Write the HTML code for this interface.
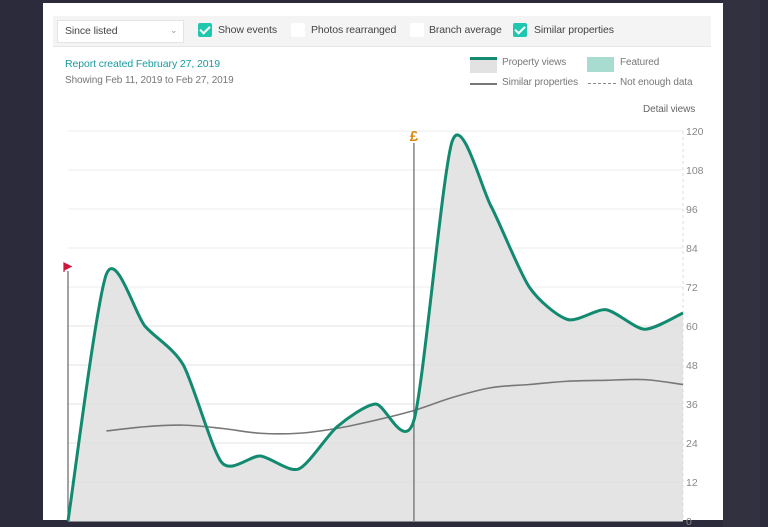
<!DOCTYPE html>
<html><head><meta charset="utf-8"><style>
body{margin:0;width:768px;height:527px;background:#2c2b3b;overflow:hidden;font-family:"Liberation Sans",sans-serif}
#panel{position:absolute;left:43px;top:3px;width:680px;height:517px;background:#fff}
#outer{position:absolute;left:723px;top:0;width:37px;height:527px;background:#32313f}
#bar{position:absolute;left:53px;top:16px;width:658px;height:30px;background:#f4f4f4;border-bottom:1px solid #e6e6e6}
.t{position:absolute;font-size:10.5px;color:#444;white-space:nowrap;letter-spacing:-0.1px}
.cb{position:absolute;width:14px;height:14px;border-radius:2px;background:#fff}
.cb.on{background:#1fc7ae}
.cb.on::after{content:"";position:absolute;left:4px;top:1px;width:4px;height:8px;border:solid #fff;border-width:0 2px 2px 0;transform:rotate(45deg)}
</style></head><body>
<div id="outer"></div>
<div id="panel"></div>
<div id="bar">
 <div style="position:absolute;left:4px;top:4px;width:125px;height:21px;background:#fff;border:1px solid #e4e4e4"><span class="t" style="left:7px;top:4px">Since listed</span><span class="t" style="left:112px;top:4px;color:#999;font-size:9px">⌄</span></div>
 <div class="cb on" style="left:145px;top:7px"></div><span class="t" style="left:165px;top:8px">Show events</span>
 <div class="cb" style="left:238px;top:7px"></div><span class="t" style="left:258px;top:8px">Photos rearranged</span>
 <div class="cb" style="left:357px;top:7px"></div><span class="t" style="left:376px;top:8px">Branch average</span>
 <div class="cb on" style="left:460px;top:7px"></div><span class="t" style="left:481px;top:8px">Similar properties</span>
</div>
<span class="t" style="left:65px;top:58px;color:#1a9aa0">Report created February 27, 2019</span>
<span class="t" style="left:65px;top:75px;color:#777;font-size:10px">Showing Feb 11, 2019 to Feb 27, 2019</span>
<div><div style="position:absolute;left:470px;top:57px;width:27px;height:13px;background:#e2e2e2;border-top:3px solid #158a6e"></div><span class="t" style="left:502px;top:57px;color:#777;font-size:10px">Property views</span></div>
<div><div style="position:absolute;left:587px;top:57px;width:27px;height:15px;background:#a8dcd0"></div><span class="t" style="left:620px;top:57px;color:#777;font-size:10px">Featured</span></div>
<div><div style="position:absolute;left:470px;top:83px;width:27px;height:2px;background:#777"></div><span class="t" style="left:502px;top:77px;color:#777;font-size:10px">Similar properties</span></div>
<div><div style="position:absolute;left:588px;top:83px;width:28px;border-top:1px dashed #888"></div><span class="t" style="left:620px;top:77px;color:#777;font-size:10px">Not enough data</span></div>
<span class="t" style="left:643px;top:104px;color:#666;font-size:10px">Detail views</span>
<svg id="c" width="768" height="527" style="position:absolute;left:0;top:0"></svg>
<script>
const days=[0,1,2,3,4,5,6,7,8,9,10,11,12,13,14,15,16];
const views=[0,76,60,48,18,20,16,29,36,31,117,97,72,62,65,59,64];
const similar=[null,27.7,29,29.5,28.5,27,27,28.5,31,34,38,41,42,43,43.3,43.5,42];
const ticks=[0,12,24,36,48,60,72,84,96,108,120];
const events=[{d:0,type:"flag"},{d:9,type:"pound"}];
const X=d=>68+d*(615/16), Y=v=>521-v*3.25;
const ns="http://www.w3.org/2000/svg",svg=document.getElementById('c');
function mk(t,a){const e=document.createElementNS(ns,t);for(const k in a)e.setAttribute(k,a[k]);svg.appendChild(e);return e;}
function path(pts,k){let s=`M${pts[0][0]},${pts[0][1]}`;for(let i=0;i<pts.length-1;i++){const p0=pts[i-1]||pts[i],p1=pts[i],p2=pts[i+1],p3=pts[i+2]||p2;
s+=` C${p1[0]+(p2[0]-p0[0])/k},${p1[1]+(p2[1]-p0[1])/k} ${p2[0]-(p3[0]-p1[0])/k},${p2[1]-(p3[1]-p1[1])/k} ${p2[0]},${p2[1]}`;}return s;}
ticks.forEach(v=>{const l=mk('line',{x1:68,x2:683,y1:Y(v),y2:Y(v),stroke:'#ececec'});


const t=mk('text',{x:686,y:Y(v)+4,'font-size':10.5,fill:'#888','font-family':'Liberation Sans'});t.textContent=v;

});
const vp=views.map((v,i)=>[X(days[i]),Y(v)]);
const d=path(vp,8);
const area=mk('path',{d:d+` L${X(16)},521 L${X(0)},521 Z`,fill:'#e4e4e4'});


ticks.forEach(v=>{if(v>60)return;mk('line',{x1:68,x2:683,y1:Y(v),y2:Y(v),stroke:'#d9d9d9','stroke-width':0.6});});
mk('line',{x1:683,x2:683,y1:131,y2:521,stroke:'#ddd','stroke-dasharray':'3,3'});
const sp=similar.map((v,i)=>v==null?null:[X(days[i]),Y(v)]).filter(p=>p);
const sl=mk('path',{d:path(sp,6),fill:'none',stroke:'#777','stroke-width':1.6});


events.forEach(e=>{const x=X(e.d);
const l=mk('line',{x1:x,x2:x,y1:e.type=='flag'?271:143,y2:521,stroke:'#666','stroke-width':1.2});


if(e.type=='flag'){const f=mk('path',{d:`M${x-4},263 L${x-4},272 M${x-4},263 L${x+3},266.5 L${x-4},270 Z`,fill:'#d0163c',stroke:'#d0163c','stroke-width':1.2});

}
else{const t=mk('text',{x:x,y:141,'text-anchor':'middle','font-size':15,'font-weight':'bold',fill:'#d68a12','font-family':'Liberation Sans'});t.textContent='£';

}});
const vl=mk('path',{d:d,fill:'none',stroke:'#118a70','stroke-width':3});


</script>
</body></html>
